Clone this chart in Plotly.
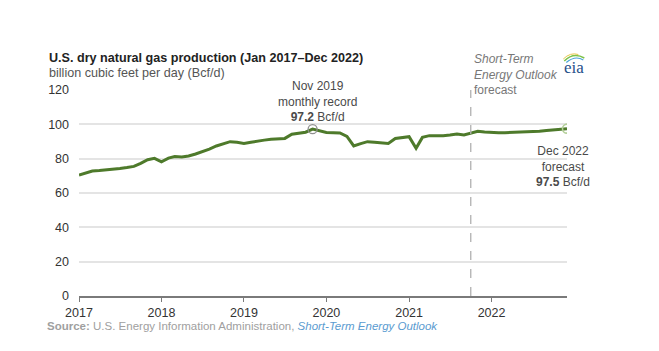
import plotly.graph_objects as go
import pandas as pd

# ---- data ----
months = pd.date_range("2017-01-01", "2022-12-01", freq="MS")
production = [
    # 2017
    70.5, 71.5, 72.8, 73.1, 73.4, 73.6, 74.3, 74.8, 75.5, 77.3, 79.4, 80.2,
    # 2018
    78.2, 80.3, 81.2, 81.0, 81.6, 82.7, 84.0, 85.6, 87.4, 88.5, 89.9, 89.5,
    # 2019
    88.9, 89.6, 90.3, 90.8, 91.3, 91.6, 91.8, 94.2, 94.6, 95.4, 97.2, 96.1,
    # 2020
    95.2, 95.1, 95.0, 93.0, 87.4, 88.8, 89.9, 89.6, 89.3, 88.9, 91.8, 92.3,
    # 2021
    92.8, 86.0, 92.4, 93.4, 93.3, 93.4, 93.8, 94.4, 93.8, 95.1, 96.0, 95.5,
    # 2022
    95.2, 95.1, 95.1, 95.2, 95.3, 95.5, 95.7, 96.0, 96.4, 96.7, 97.0, 97.5,
]
year_ticks = ["2017-01-01", "2018-01-01", "2019-01-01", "2020-01-01", "2021-01-01", "2022-01-01"]
year_labels = ["2017", "2018", "2019", "2020", "2021", "2022"]
y_ticks = [0, 20, 40, 60, 80, 100, 120]
record_month = "2019-11-01"
forecast_start = "2021-10-01"

record_idx = list(months).index(pd.Timestamp(record_month))
last_idx = len(production) - 1

# plot area geometry (pixels)
L, R, T, B = 79.3, 92.3, 90, 55
W = 659 - L - R
H = 351 - T - B


def px(x):
    return (x - L) / W


def py(y):
    return (351 - B - y) / H


fig = go.Figure()
fig.add_trace(go.Scatter(
    x=months, y=production, mode="lines",
    line=dict(color="#4e7a2b", width=3), hoverinfo="skip", showlegend=False))
fig.add_trace(go.Scatter(
    x=[months[record_idx]], y=[production[record_idx]], mode="markers",
    marker=dict(symbol="circle-open", size=9, color="#8f8f8f", line=dict(width=1.3)),
    showlegend=False, hoverinfo="skip"))
fig.add_trace(go.Scatter(
    x=[months[last_idx]], y=[production[last_idx]], mode="markers",
    marker=dict(symbol="circle-open", size=9, color="#b3cf98", line=dict(width=1.6)),
    showlegend=False, hoverinfo="skip"))

FONT = "Liberation Sans, Arial, sans-serif"
TXT = "#4a4a4a"

annotations = [
    dict(text="<b>U.S. dry natural gas production (Jan 2017\u2013Dec 2022)</b>",
         x=px(47), y=py(58), xanchor="left", yanchor="middle",
         font=dict(size=12.6, color="#222222")),
    dict(text="billion cubic feet per day (Bcf/d)",
         x=px(47), y=py(73), xanchor="left", yanchor="middle",
         font=dict(size=12.6, color="#555555")),
    dict(text=f"Nov 2019<br>monthly record<br><b>{production[record_idx]}</b> Bcf/d",
         x=px(317.5), y=py(77), xanchor="center", yanchor="top", align="center",
         font=dict(size=12, color=TXT)),
    dict(text=f"Dec 2022<br>forecast<br><b>{production[last_idx]}</b> Bcf/d",
         x=px(563), y=py(141.5), xanchor="center", yanchor="top", align="center",
         font=dict(size=12, color=TXT)),
    dict(text="<i>Short-Term</i><br><i>Energy Outlook</i><br>forecast",
         x=px(472), y=py(50), xanchor="left", yanchor="top", align="left",
         font=dict(size=12, color="#777777")),
    dict(text="<b>Source:</b> U.S. Energy Information Administration, "
              "<i><span style='color:#5a9bd0'>Short-Term Energy Outlook</span></i>",
         x=px(45), y=py(326), xanchor="left", yanchor="middle",
         font=dict(size=11.5, color="#a0a0a0")),
    dict(text="eia", x=px(574), y=py(67), xanchor="center", yanchor="middle",
         font=dict(size=17, color="#1f4f8a", family="Liberation Serif, DejaVu Serif, serif")),
]
for a in annotations:
    a.update(xref="paper", yref="paper", showarrow=False)
    if "family" not in a["font"]:
        a["font"]["family"] = FONT

shapes = [
    dict(type="line", xref="x", yref="paper", x0=forecast_start, x1=forecast_start,
         y0=0, y1=1, line=dict(color="#b0b0b0", width=1.3, dash="dash")),
    # eia logo arcs
    dict(type="path", xref="paper", yref="paper",
         path=f"M {px(564)},{py(61)} Q {px(573)},{py(52)} {px(584)},{py(58)}",
         line=dict(color="#7cc24a", width=1.5)),
    dict(type="path", xref="paper", yref="paper",
         path=f"M {px(566)},{py(62.5)} Q {px(575)},{py(55)} {px(583)},{py(60)}",
         line=dict(color="#4aa3d8", width=1.2)),
    dict(type="path", xref="paper", yref="paper",
         path=f"M {px(563)},{py(59)} Q {px(570)},{py(52)} {px(578)},{py(54.5)}",
         line=dict(color="#e8c64a", width=1)),
]

fig.update_layout(
    width=659, height=351,
    margin=dict(l=L, r=R, t=T, b=B),
    paper_bgcolor="white", plot_bgcolor="white",
    font=dict(family=FONT, size=12.5, color="#333333"),
    annotations=annotations, shapes=shapes,
    showlegend=False,
    xaxis=dict(
        type="date", range=[months[0], months[-1]],
        tickvals=year_ticks, ticktext=year_labels,
        showgrid=False, zeroline=False,
        showline=True, linecolor="#7a7a7a", linewidth=1.5,
        ticks="outside", ticklen=4, tickcolor="#7a7a7a", tickwidth=1,
        tickfont=dict(size=12.5, color="#333333"),
    ),
    yaxis=dict(
        range=[0, 120], tickvals=y_ticks,
        showgrid=True, gridcolor="#e4e4e4", gridwidth=1.5,
        zeroline=False, showline=False, ticks="",
        ticklabelstandoff=9,
        tickfont=dict(size=12.5, color="#333333"),
    ),
)

fig.write_html("out.html")
